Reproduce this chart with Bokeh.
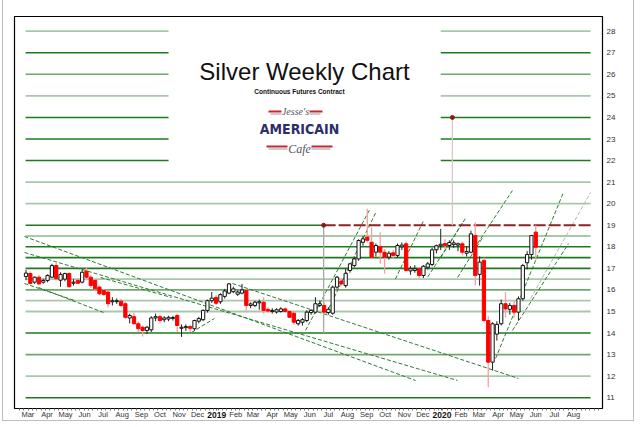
import numpy as np
from bokeh.plotting import figure
from bokeh.models import LinearAxis, FixedTicker, Range1d, Label, ColumnDataSource
from bokeh.embed import file_html
from bokeh.resources import INLINE

# ---------------- data ----------------
opens = [16.62,16.76,16.36,16.59,16.36,16.44,16.59,17.13,16.45,16.50,16.76,16.31,16.44,16.36,16.87,16.59,16.44,16.13,15.97,15.90,
         15.45,15.46,15.48,15.36,14.70,14.76,14.43,14.27,14.12,14.15,14.70,14.76,14.62,14.65,14.68,14.81,14.22,14.25,14.30,14.20,
         14.55,14.62,15.05,15.50,15.65,15.45,15.70,15.85,15.92,15.80,15.85,15.97,15.28,15.28,15.40,15.43,15.10,15.00,14.98,15.00,
         15.12,15.00,14.92,14.43,14.50,14.58,14.95,14.97,15.28,15.28,14.95,14.92,16.13,16.41,16.20,16.90,17.13,17.44,18.21,18.45,
         18.21,17.75,18.00,17.75,17.52,17.72,17.60,18.00,18.14,16.88,16.90,16.98,16.67,17.05,17.18,17.86,18.05,18.15,18.06,18.10,
         18.08,18.14,17.70,17.75,18.52,16.72,17.37,14.58,12.65,13.95,14.43,15.36,15.10,15.28,14.97,15.59,17.26,17.64,18.68]
highs = [16.93,16.85,16.62,16.70,16.52,16.72,17.21,17.30,16.82,16.80,16.82,16.50,16.55,16.95,17.03,16.70,16.50,16.20,16.05,15.98,
         15.66,15.60,15.58,15.45,14.90,14.95,14.55,14.35,14.32,14.78,14.90,14.85,14.78,14.80,14.80,14.90,14.40,14.40,14.40,14.62,
         14.75,15.10,15.55,15.90,15.75,15.85,16.05,16.32,16.15,15.98,16.28,16.05,15.42,15.50,15.55,15.66,15.20,15.15,15.15,15.20,
         15.20,15.05,15.00,14.65,14.70,15.05,15.10,15.66,15.50,15.40,15.20,16.20,16.65,16.55,16.98,17.25,17.50,18.35,18.50,19.76,
         18.90,18.15,18.68,17.90,17.80,17.85,18.15,18.20,18.25,17.10,17.15,17.05,17.15,17.30,17.95,18.10,18.83,18.35,18.30,18.30,
         18.20,18.25,18.00,18.75,19.14,17.55,17.50,14.80,14.50,14.55,15.55,15.90,15.40,15.50,15.70,17.20,17.80,18.55,19.00]
lows = [16.45,16.25,16.28,16.22,16.28,16.35,16.55,16.45,16.15,16.40,16.10,16.20,16.28,16.30,16.44,16.10,16.00,15.75,15.72,15.20,
        15.28,15.35,15.20,14.65,14.45,14.40,14.05,13.84,13.95,14.05,14.55,14.45,14.50,14.55,14.58,14.05,13.82,14.10,14.05,14.10,
        14.45,14.55,14.95,15.40,15.30,15.35,15.60,15.80,15.85,15.72,15.80,14.95,15.15,15.20,15.08,14.89,14.95,14.90,14.90,14.95,
        14.95,14.70,14.40,14.35,14.35,14.50,14.85,14.90,15.20,14.90,14.85,14.85,16.05,16.20,16.10,16.80,17.05,17.35,18.05,18.20,
        17.45,17.55,17.21,16.75,17.40,17.45,17.50,17.85,16.85,16.70,16.80,16.55,16.55,16.95,17.10,17.70,17.85,17.90,17.85,17.95,
        17.80,17.60,17.55,17.70,16.20,16.20,14.50,11.49,12.26,13.65,14.35,14.73,14.85,14.70,14.58,15.50,16.95,17.40,17.40]
closes = [16.78,16.30,16.59,16.28,16.44,16.67,17.13,16.52,16.72,16.76,16.15,16.36,16.31,16.82,16.59,16.20,16.05,15.82,15.79,15.36,
          15.50,15.50,15.28,14.73,14.81,14.43,14.20,14.12,14.27,14.70,14.76,14.58,14.70,14.73,14.72,14.35,14.27,14.30,14.22,14.58,
          14.67,15.05,15.50,15.62,15.38,15.78,15.95,16.28,16.05,15.90,16.00,15.28,15.35,15.43,15.45,15.05,15.02,15.05,15.08,15.12,
          15.00,14.73,14.50,14.58,14.62,14.97,15.05,15.36,15.36,14.97,15.10,16.13,16.59,16.28,16.77,17.21,17.44,18.29,18.37,18.30,
          17.52,18.06,17.75,17.52,17.70,17.60,18.06,18.08,16.90,16.98,16.98,16.67,17.10,17.21,17.86,18.05,18.12,18.06,18.20,18.18,
          18.14,17.75,17.78,18.60,16.67,17.29,14.58,12.65,14.43,14.40,15.36,15.12,15.28,14.97,15.59,17.13,17.64,18.52,17.98]
weeks = list(range(len(opens)))

month_pos = [0.43,4.86,9.14,13.57,17.86,22.29,26.71,31.0,35.43,39.71,44.14,48.57,52.57,57.0,61.29,65.71,70.0,74.43,
             78.86,83.14,87.57,91.86,96.29,100.71,104.86,109.29,113.57,118.0,122.29,126.71]
month_labels = ["Mar","Apr","May","Jun","Jul","Aug","Sep","Oct","Nov","Dec","2019","Feb","Mar","Apr","May","Jun","Jul","Aug",
                "Sep","Oct","Nov","Dec","2020","Feb","Mar","Apr","May","Jun","Jul","Aug"]
price_ticks = list(range(11, 29))

# horizontal levels: price, kind, start week, end week
h_price = [28,27,26,25,24,23,22, 28,27,26,25,24,23,22, 21,20,19,18.5,18,17.5,17,16.5,16,15.5,15,14,13,12,11]
h_kind  = ["light","dark","mid","light","dark","dark","dark", "light","dark","mid","light","dark","dark","dark",
           "light","light","dark","light","dark","dark","dark","light","mid","light","light","dark","mid","light","dark"]
h_start = [-0.1]*7 + [96.0]*7 + [-0.1]*15
h_end   = [33.0]*7 + [130.7]*7 + [130.7,130.7,68.9] + [130.7]*12

# resistance marker (red dashed) and spikes
res_price = 19
res_start, res_end = 68.9, 130.7
spike_week = [68.9, 98.7]
spike_top = [19, 24]
spike_bottom = [14, 19]

# descending trend lines (week, price) -> (week, price)
down_w0 = [-0.35, -0.35, -0.35, 2.89, 17.25, 47.80]
down_p0 = [18.478, 17.736, 16.298, 16.113, 16.577, 16.298]
down_w1 = [90.16, 99.88, 11.23, 17.94, 33.68, 114.0]
down_p1 = [11.800, 11.800, 15.510, 14.954, 15.650, 11.892]

# ascending trend lines
up_w0 = [38.31, 64.7, 69.5, 85.5, 93.0, 96.0, 99.9, 104.5, 108.7, 112.6]
up_p0 = [14.025, 14.12, 14.90, 16.50, 16.60, 17.50, 16.58, 18.15, 12.82, 14.12]
up_w1 = [43.63, 79.7, 81.0, 92.0, 101.0, 101.7, 105.7, 112.6, 124.4, 125.6]
up_p1 = [14.675, 19.78, 19.60, 19.20, 19.10, 19.31, 18.43, 20.61, 20.52, 18.15]
uplight_w0 = [116.8]
uplight_p0 = [15.60]
uplight_w1 = [130.7]
uplight_p1 = [20.52]

# ---------------- geometry ----------------
PX0, PY0 = 3, 0              # where the canvas starts on the page
W, H = 632, 421
FL, FT = 14, 16              # frame left/top on the page
FW, FH = 588, 392            # frame size
X0, X1 = -2.662, 133.45
Y0, Y1 = 10.50, 28.682

def ix(px):  # page pixel x -> week
    return X0 + (px - FL) * (X1 - X0) / FW

def iy(py):  # page pixel y -> price
    return Y1 - (py - FT) * (Y1 - Y0) / FH

p = figure(width=W, height=H, x_range=Range1d(X0, X1), y_range=Range1d(Y0, Y1),
           output_backend="svg", toolbar_location=None,
           min_border_left=FL - PX0, min_border_top=FT - PY0,
           min_border_right=W - (FL - PX0) - FW, min_border_bottom=H - (FT - PY0) - FH,
           x_axis_location=None, y_axis_location=None,
           styles={"margin-left": "2px", "border-left": "1px solid #bdbdbd",
                   "border-right": "1px solid #bdbdbd", "border-bottom": "1px solid #bdbdbd"})
p.xgrid.visible = False
p.ygrid.visible = False
p.outline_line_color = "black"
p.outline_line_width = 1.2
p.background_fill_color = "white"
p.border_fill_color = "white"

# right axis
ra = LinearAxis(ticker=FixedTicker(ticks=price_ticks))
ra.major_label_text_font = "Liberation Sans"
ra.major_label_text_font_size = "8px"
ra.major_label_text_color = "#333333"
ra.major_tick_out = 0
ra.major_tick_in = 0
ra.minor_tick_out = 0
ra.axis_line_color = None
ra.major_label_standoff = 4
p.add_layout(ra, "right")

# bottom axes: bold years (inner) and months (outer, drawn on the same row)
year_pos = [m for m, l in zip(month_pos, month_labels) if l.isdigit()]
year_lab = [l for l in month_labels if l.isdigit()]
ya = LinearAxis(ticker=FixedTicker(ticks=year_pos, minor_ticks=[w + 0.5 for w in range(-2, 133)]))
ya.major_label_overrides = {m: l for m, l in zip(year_pos, year_lab)}
ya.major_label_text_font = "Liberation Sans"
ya.major_label_text_font_size = "8.5px"
ya.major_label_text_font_style = "bold"
ya.major_label_text_color = "#111111"
ya.major_tick_out = 2
ya.major_tick_in = 0
ya.minor_tick_out = 2
ya.minor_tick_in = 0
ya.major_tick_line_color = "#666666"
ya.minor_tick_line_color = "#777777"
ya.axis_line_color = None
ya.major_label_standoff = 1
p.add_layout(ya, "below")

mon_pos = [m for m, l in zip(month_pos, month_labels) if not l.isdigit()]
mon_lab = [l for l in month_labels if not l.isdigit()]
ma = LinearAxis(ticker=FixedTicker(ticks=mon_pos))
ma.major_label_overrides = {m: l for m, l in zip(mon_pos, mon_lab)}
ma.major_label_text_font = "Liberation Sans"
ma.major_label_text_font_size = "7.5px"
ma.major_label_text_color = "#333333"
ma.major_tick_out = 0
ma.major_tick_in = 0
ma.minor_tick_out = 0
ma.axis_line_color = None
ma.major_label_standoff = -11
p.add_layout(ma, "below")

# horizontal lines
colors = {"dark": "#1f7a1f", "mid": "#6fa86f", "light": "#a9c8a9"}
widths = {"dark": 1.6, "mid": 1.6, "light": 1.8}
for kind in ["light", "mid", "dark"]:
    idx = [i for i, k in enumerate(h_kind) if k == kind]
    p.segment(x0=[h_start[i] for i in idx], y0=[h_price[i] for i in idx],
              x1=[h_end[i] for i in idx], y1=[h_price[i] for i in idx],
              line_color=colors[kind], line_width=widths[kind])

# trend lines
p.segment(x0=uplight_w0, y0=uplight_p0, x1=uplight_w1, y1=uplight_p1,
          line_color="#b5b5b5", line_width=1, line_dash="4 2")
p.segment(x0=down_w0, y0=down_p0, x1=down_w1, y1=down_p1,
          line_color="#2e7d32", line_width=1, line_dash="4 2")
p.segment(x0=up_w0, y0=up_p0, x1=up_w1, y1=up_p1,
          line_color="#2e7d32", line_width=1, line_dash="4 2")

# resistance dashed red
p.segment(x0=[res_start], y0=[res_price], x1=[res_end], y1=[res_price],
          line_color="#8b2323", line_width=2, line_dash="12 3")
p.segment(x0=spike_week, y0=spike_bottom, x1=spike_week, y1=spike_top,
          line_color=["#a8a8a8", "#d9c9c9"], line_width=1.3)
p.scatter(x=spike_week, y=spike_top, size=4, color="#8b1a1a")

# candles
o = np.array(opens); c = np.array(closes); hi = np.array(highs); lo = np.array(lows)
wk = np.array(weeks, dtype=float)
up = c >= o
src_up = ColumnDataSource(dict(x=wk[up], top=c[up], bottom=o[up], hi=hi[up], lo=lo[up]))
src_dn = ColumnDataSource(dict(x=wk[~up], top=o[~up], bottom=c[~up], hi=hi[~up], lo=lo[~up]))
p.segment(x0="x", y0="lo", x1="x", y1="hi", source=src_up, line_color="#222222", line_width=1)
p.segment(x0="x", y0="lo", x1="x", y1="hi", source=src_dn, line_color="#f5a0a0", line_width=1.3)
p.vbar(x="x", top="top", bottom="bottom", width=0.75, source=src_up,
       fill_color="white", line_color="#111111", line_width=1)
p.vbar(x="x", top="top", bottom="bottom", width=0.75, source=src_dn,
       fill_color="#ff0000", line_color="#ff0000", line_width=1)

# title and logo
p.add_layout(Label(x=ix(304), y=iy(71), text="Silver Weekly Chart", text_align="center",
                   text_baseline="middle", text_font="Liberation Sans", text_font_size="24px",
                   text_color="#111111"))
p.add_layout(Label(x=ix(299), y=iy(91), text="Continuous Futures Contract", text_align="center",
                   text_baseline="middle", text_font="Liberation Sans", text_font_size="6.5px",
                   text_font_style="bold", text_color="#111111"))
p.add_layout(Label(x=ix(295), y=iy(111), text="Jesse's", text_align="center", text_baseline="middle",
                   text_font="Liberation Serif", text_font_size="10px", text_font_style="italic",
                   text_color="#555566"))
p.add_layout(Label(x=ix(299), y=iy(128), text="AMERICAIN", text_align="center", text_baseline="middle",
                   text_font="DejaVu Sans Condensed, Liberation Sans", text_font_size="14px",
                   text_font_style="bold", text_color="#2d2d6b"))
p.add_layout(Label(x=ix(299), y=iy(148), text="Cafe", text_align="center", text_baseline="middle",
                   text_font="Liberation Serif", text_font_size="12px", text_font_style="italic",
                   text_color="#555566"))
p.segment(x0=[ix(268), ix(309), ix(266), ix(311)], y0=[iy(111), iy(111), iy(146), iy(146)],
          x1=[ix(281), ix(322), ix(287), ix(332)], y1=[iy(111), iy(111), iy(146), iy(146)],
          line_color="#c8262c", line_width=2)
p.segment(x0=[ix(270), ix(309), ix(268), ix(311)], y0=[iy(113.5), iy(113.5), iy(148.5), iy(148.5)],
          x1=[ix(281), ix(320), ix(287), ix(330)], y1=[iy(113.5), iy(113.5), iy(148.5), iy(148.5)],
          line_color="#999999", line_width=1.2)

open("out.html", "w").write(file_html(p, INLINE))
